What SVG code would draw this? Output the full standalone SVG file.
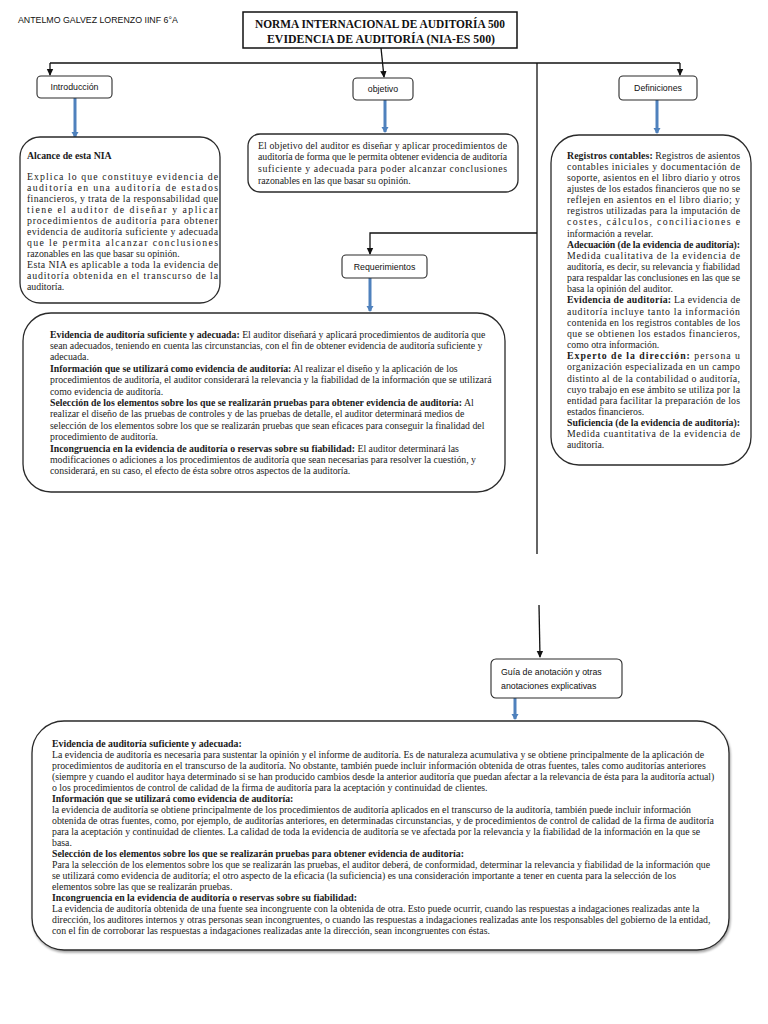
<svg xmlns="http://www.w3.org/2000/svg" width="768" height="1024" viewBox="0 0 768 1024">
<defs>
<marker id="ah" markerWidth="8" markerHeight="8" refX="6" refY="4" orient="auto" markerUnits="userSpaceOnUse"><path d="M0,0.8 L7,4 L0,7.2 Z" fill="#111"/></marker>
<marker id="bh" markerWidth="8" markerHeight="8" refX="5" refY="4" orient="auto" markerUnits="userSpaceOnUse"><path d="M0,0.5 L6,4 L0,7.5 Z" fill="#4f81bd"/></marker>
<filter id="sh" x="-5%" y="-5%" width="110%" height="115%"><feDropShadow dx="1" dy="2" stdDeviation="1.2" flood-color="#000" flood-opacity="0.35"/></filter>
</defs>
<style>
.box{fill:#fff;stroke:#2a2a2a;stroke-width:1.3}
.lb{fill:#fff;stroke:#2a2a2a;stroke-width:1.1}
.lbl{font-family:"Liberation Sans",Arial,sans-serif;font-size:8.8px;fill:#111}
.t{font-family:"Liberation Serif","Times New Roman",serif;font-size:9.8px;fill:#1a1a1a}
.b{font-weight:bold}
.ttl{font-family:"Liberation Serif","Times New Roman",serif;font-size:13px;font-weight:bold;fill:#111}
.con{fill:none;stroke:#111;stroke-width:1.3}
.blue{fill:none;stroke:#4f81bd;stroke-width:3}
</style>
<rect width="768" height="1024" fill="#fff"/>

<text x="18" y="23" class="lbl" font-size="8.2px">ANTELMO GALVEZ LORENZO IINF 6°A</text>

<g id="connectors">
<path class="con" d="M50,63 L537,63 L680,63" stroke-width="1.6"/>
<path class="con" d="M50,63 L50,75" marker-end="url(#ah)"/>
<path class="con" d="M680,63 L680,75" marker-end="url(#ah)"/>
<path class="con" d="M381,48 L384,77" marker-end="url(#ah)"/>
<path class="con" d="M537,63 L537,554" stroke-width="1.1"/>
<path class="con" d="M537,233 L370,233 L370,254" marker-end="url(#ah)"/>
<path class="con" d="M539,605 L540,657" marker-end="url(#ah)"/>
<path class="blue" d="M75,98 L75,137" marker-end="url(#bh)"/>
<path class="blue" d="M385,100 L385,132" marker-end="url(#bh)"/>
<path class="blue" d="M657,100 L657,133" marker-end="url(#bh)"/>
<path class="blue" d="M370,278 L370,311" marker-end="url(#bh)"/>
<path class="blue" d="M515,698 L515,719" marker-end="url(#bh)"/>
</g>

<g id="title">
<rect x="243" y="12" width="274" height="36" fill="#fff" stroke="#111" stroke-width="1.5"/>
<text x="380" y="28" class="ttl" text-anchor="middle" textLength="250" lengthAdjust="spacingAndGlyphs">NORMA INTERNACIONAL DE AUDITORÍA 500</text>
<text x="381" y="43" class="ttl" text-anchor="middle" textLength="228" lengthAdjust="spacingAndGlyphs">EVIDENCIA DE AUDITORÍA (NIA-ES 500)</text>
</g>

<g id="introduccion">
<rect class="lb" x="37" y="76" width="75" height="22" rx="4"/>
<text x="74.5" y="90" class="lbl" text-anchor="middle">Introducción</text>
</g>
<g id="objetivo">
<rect class="lb" x="353" y="78" width="60" height="22" rx="4"/>
<text x="383" y="92" class="lbl" text-anchor="middle">objetivo</text>
</g>
<g id="definiciones">
<rect class="lb" x="619" y="76" width="78" height="24" rx="4" stroke="#7ba3cf"/>
<text x="658" y="91" class="lbl" text-anchor="middle">Definiciones</text>
</g>
<g id="requerimientos">
<rect class="lb" x="342" y="255" width="85" height="23" rx="4"/>
<text x="384.5" y="269.5" class="lbl" text-anchor="middle">Requerimientos</text>
</g>
<g id="guia">
<rect class="lb" x="491" y="659" width="131" height="39" rx="5"/>
<text x="501" y="675" class="lbl">Guía de anotación y otras</text>
<text x="501" y="689" class="lbl">anotaciones explicativas</text>
</g>

<g id="alcance">
<rect class="box" x="20" y="137" width="200" height="166" rx="20"/>
<text class="t b" x="27" y="159">Alcance de esta NIA</text>
<text class="t" x="27" y="180" textLength="191" lengthAdjust="spacing">Explica lo que constituye evidencia de</text>
<text class="t" x="27" y="191" textLength="191" lengthAdjust="spacing">auditoría en una auditoría de estados</text>
<text class="t" x="27" y="202" textLength="191" lengthAdjust="spacing">financieros, y trata de la responsabilidad que</text>
<text class="t" x="27" y="213" textLength="191" lengthAdjust="spacing">tiene el auditor de diseñar y aplicar</text>
<text class="t" x="27" y="224" textLength="191" lengthAdjust="spacing">procedimientos de auditoría para obtener</text>
<text class="t" x="27" y="235" textLength="191" lengthAdjust="spacing">evidencia de auditoría suficiente y adecuada</text>
<text class="t" x="27" y="246" textLength="191" lengthAdjust="spacing">que le permita alcanzar conclusiones</text>
<text class="t" x="27" y="257">razonables en las que basar su opinión.</text>
<text class="t" x="27" y="268" textLength="191" lengthAdjust="spacing">Esta NIA es aplicable a toda la evidencia de</text>
<text class="t" x="27" y="279" textLength="191" lengthAdjust="spacing">auditoría obtenida en el transcurso de la</text>
<text class="t" x="27" y="290">auditoría.</text>
</g>

<g id="objetivo-texto">
<rect class="box" x="248" y="134" width="270" height="58" rx="12"/>
<text class="t" x="258" y="148.5" textLength="249" lengthAdjust="spacing">El objetivo del auditor es diseñar y aplicar procedimientos de</text>
<text class="t" x="258" y="160.3" textLength="249" lengthAdjust="spacing">auditoría de forma que le permita obtener evidencia de auditoría</text>
<text class="t" x="258" y="172" textLength="249" lengthAdjust="spacing">suficiente y adecuada para poder alcanzar conclusiones</text>
<text class="t" x="258" y="183.8">razonables en las que basar su opinión.</text>
</g>

<g id="definiciones-texto">
<rect class="box" x="551" y="135" width="200" height="330" rx="28"/>
<text class="t" x="567" y="158.5" textLength="173" lengthAdjust="spacing"><tspan class="b">Registros contables:</tspan> Registros de asientos</text>
<text class="t" x="567" y="169.6" textLength="173" lengthAdjust="spacing">contables iniciales y documentación de</text>
<text class="t" x="567" y="180.8" textLength="173" lengthAdjust="spacing">soporte, asientos en el libro diario y otros</text>
<text class="t" x="567" y="191.9" textLength="173" lengthAdjust="spacing">ajustes de los estados financieros que no se</text>
<text class="t" x="567" y="203.1" textLength="173" lengthAdjust="spacing">reflejen en asientos en el libro diario; y</text>
<text class="t" x="567" y="214.2" textLength="173" lengthAdjust="spacing">registros utilizadas para la imputación de</text>
<text class="t" x="567" y="225.4" textLength="173" lengthAdjust="spacing">costes,      cálculos,      conciliaciones      e</text>
<text class="t" x="567" y="236.5">información a revelar.</text>
<text class="t b" x="567" y="247.7" textLength="173" lengthAdjust="spacing">Adecuación (de la evidencia de auditoría):</text>
<text class="t" x="567" y="258.8" textLength="173" lengthAdjust="spacing">Medida cualitativa de la evidencia de</text>
<text class="t" x="567" y="270" textLength="173" lengthAdjust="spacing">auditoría, es decir, su relevancia y fiabilidad</text>
<text class="t" x="567" y="281.1" textLength="173" lengthAdjust="spacing">para respaldar las conclusiones en las que se</text>
<text class="t" x="567" y="292.3">basa la opinión del auditor.</text>
<text class="t" x="567" y="303.4" textLength="173" lengthAdjust="spacing"><tspan class="b">Evidencia de auditoría:</tspan> La evidencia de</text>
<text class="t" x="567" y="314.6" textLength="173" lengthAdjust="spacing">auditoría incluye tanto la información</text>
<text class="t" x="567" y="325.7" textLength="173" lengthAdjust="spacing">contenida en los registros contables de los</text>
<text class="t" x="567" y="336.9" textLength="173" lengthAdjust="spacing">que se obtienen los estados financieros,</text>
<text class="t" x="567" y="348">como otra información.</text>
<text class="t" x="567" y="359.2" textLength="173" lengthAdjust="spacing"><tspan class="b">Experto de la dirección:</tspan> persona u</text>
<text class="t" x="567" y="370.3" textLength="173" lengthAdjust="spacing">organización especializada en un campo</text>
<text class="t" x="567" y="381.5" textLength="173" lengthAdjust="spacing">distinto al de la contabilidad o auditoría,</text>
<text class="t" x="567" y="392.6" textLength="173" lengthAdjust="spacing">cuyo trabajo en ese ámbito se utiliza por la</text>
<text class="t" x="567" y="403.8" textLength="173" lengthAdjust="spacing">entidad para facilitar la preparación de los</text>
<text class="t" x="567" y="414.9">estados financieros.</text>
<text class="t b" x="567" y="426.1" textLength="173" lengthAdjust="spacing">Suficiencia (de la evidencia de auditoría):</text>
<text class="t" x="567" y="437.2" textLength="173" lengthAdjust="spacing">Medida cuantitativa de la evidencia de</text>
<text class="t" x="567" y="448.4">auditoría.</text>
</g>

<g id="requerimientos-texto">
<rect class="box" x="23" y="313" width="482" height="179" rx="28"/>
<text class="t" x="50" y="337.5"><tspan class="b">Evidencia de auditoría suficiente y adecuada:</tspan> El auditor diseñará y aplicará procedimientos de auditoría que</text>
<text class="t" x="50" y="348.9">sean adecuados, teniendo en cuenta las circunstancias, con el fin de obtener evidencia de auditoría suficiente y</text>
<text class="t" x="50" y="360.3">adecuada.</text>
<text class="t" x="50" y="371.7"><tspan class="b">Información que se utilizará como evidencia de auditoría:</tspan> Al realizar el diseño y la aplicación de los</text>
<text class="t" x="50" y="383.1">procedimientos de auditoría, el auditor considerará la relevancia y la fiabilidad de la información que se utilizará</text>
<text class="t" x="50" y="394.5">como evidencia de auditoría.</text>
<text class="t" x="50" y="405.9"><tspan class="b">Selección de los elementos sobre los que se realizarán pruebas para obtener evidencia de auditoría:</tspan> Al</text>
<text class="t" x="50" y="417.3">realizar el diseño de las pruebas de controles y de las pruebas de detalle, el auditor determinará medios de</text>
<text class="t" x="50" y="428.7">selección de los elementos sobre los que se realizarán pruebas que sean eficaces para conseguir la finalidad del</text>
<text class="t" x="50" y="440.1">procedimiento de auditoría.</text>
<text class="t" x="50" y="451.5"><tspan class="b">Incongruencia en la evidencia de auditoría o reservas sobre su fiabilidad:</tspan> El auditor determinará las</text>
<text class="t" x="50" y="462.9">modificaciones o adiciones a los procedimientos de auditoría que sean necesarias para resolver la cuestión, y</text>
<text class="t" x="50" y="474.3">considerará, en su caso, el efecto de ésta sobre otros aspectos de la auditoría.</text>
</g>

<g id="guia-texto">
<rect class="box" x="32" y="721" width="697" height="229" rx="32" filter="url(#sh)"/>
<text class="t b" x="52" y="746.5">Evidencia de auditoría suficiente y adecuada:</text>
<text class="t" x="52" y="757.5">La evidencia de auditoría es necesaria para sustentar la opinión y el informe de auditoría. Es de naturaleza acumulativa y se obtiene principalmente de la aplicación de</text>
<text class="t" x="52" y="768.5">procedimientos de auditoría en el transcurso de la auditoría. No obstante, también puede incluir información obtenida de otras fuentes, tales como auditorías anteriores</text>
<text class="t" x="52" y="779.5">(siempre y cuando el auditor haya determinado si se han producido cambios desde la anterior auditoría que puedan afectar a la relevancia de ésta para la auditoría actual)</text>
<text class="t" x="52" y="790.5">o los procedimientos de control de calidad de la firma de auditoría para la aceptación y continuidad de clientes.</text>
<text class="t b" x="52" y="801.5">Información que se utilizará como evidencia de auditoría:</text>
<text class="t" x="52" y="812.5">la evidencia de auditoría se obtiene principalmente de los procedimientos de auditoría aplicados en el transcurso de la auditoría, también puede incluir información</text>
<text class="t" x="52" y="823.5">obtenida de otras fuentes, como, por ejemplo, de auditorías anteriores, en determinadas circunstancias, y de procedimientos de control de calidad de la firma de auditoría</text>
<text class="t" x="52" y="834.5">para la aceptación y continuidad de clientes. La calidad de toda la evidencia de auditoría se ve afectada por la relevancia y la fiabilidad de la información en la que se</text>
<text class="t" x="52" y="845.5">basa.</text>
<text class="t b" x="52" y="856.5">Selección de los elementos sobre los que se realizarán pruebas para obtener evidencia de auditoría:</text>
<text class="t" x="52" y="867.5">Para la selección de los elementos sobre los que se realizarán las pruebas, el auditor deberá, de conformidad, determinar la relevancia y fiabilidad de la información que</text>
<text class="t" x="52" y="878.5">se utilizará como evidencia de auditoría; el otro aspecto de la eficacia (la suficiencia) es una consideración importante a tener en cuenta para la selección de los</text>
<text class="t" x="52" y="889.5">elementos sobre las que se realizarán pruebas.</text>
<text class="t b" x="52" y="900.5">Incongruencia en la evidencia de auditoría o reservas sobre su fiabilidad:</text>
<text class="t" x="52" y="911.5">La evidencia de auditoría obtenida de una fuente sea incongruente con la obtenida de otra. Esto puede ocurrir, cuando las respuestas a indagaciones realizadas ante la</text>
<text class="t" x="52" y="922.5">dirección, los auditores internos y otras personas sean incongruentes, o cuando las respuestas a indagaciones realizadas ante los responsables del gobierno de la entidad,</text>
<text class="t" x="52" y="933.5">con el fin de corroborar las respuestas a indagaciones realizadas ante la dirección, sean incongruentes con éstas.</text>
</g>
</svg>
